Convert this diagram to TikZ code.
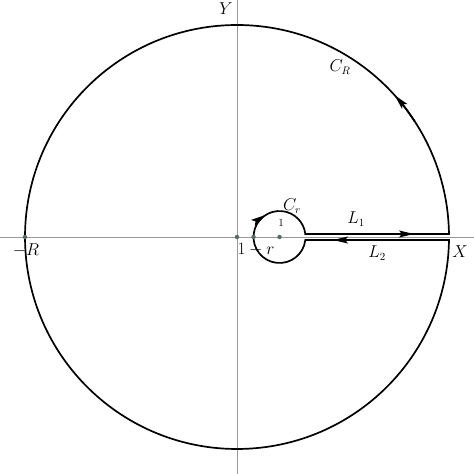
\documentclass[tikz,border=0pt]{standalone}
\usetikzlibrary{arrows.meta,calc}
\begin{document}
\begin{tikzpicture}[x=1bp,y=1bp,
  axis/.style={draw=gray!80, line width=0.7bp},
  contour/.style={draw=black, line width=1.7bp},
  tip/.style={contour, -{Stealth[length=15bp,width=7bp,inset=3bp]}},
  dotpt/.style={circle, fill={rgb,255:red,85;green,110;blue,100}, inner sep=0pt, minimum size=4.5bp},
  lbl/.style={font=\fontsize{16}{18}\selectfont, inner sep=0pt}]
\useasboundingbox (-237,-237) rectangle (237,237);
% axes
\coordinate (xl) at (-237,0); \coordinate (xr) at (237,0);
\coordinate (yb) at (0,-237); \coordinate (yt) at (0,237);
\draw[axis] (xl) -- (xr);
\draw[axis] (yb) -- (yt);
% contour
\coordinate (sc) at (42.5,0);
\draw[contour] (68.33,3) -- (211.98,3) arc[start angle=0.81, end angle=359.19, radius=212]
  -- (68.33,-3) arc[start angle=-6.63, end angle=-353.37, radius=26] -- cycle;
% arrows
\draw[tip] (33:212) arc[start angle=33, end angle=42, radius=212];
\draw[tip] ($(sc)+(140:26)$) arc[start angle=140, end angle=122, radius=26];
\draw[tip] (150,3) -- (177,3);
\draw[tip] (122,-3) -- (96,-3);
% dots
\node[dotpt] (pR) at (-212,0) {};
\node[dotpt] (p0) at (0,0) {};
\node[dotpt] (p1r) at (16.5,0) {};
\node[dotpt] (p1) at (sc) {};
% labels
\node[lbl] (lCR) at (103,170) {$C_R$};
\node[lbl] (lCr) at (55,31) {$C_r$};
\node[lbl, font=\fontsize{10.5}{12}\selectfont] (l1) at (44,14) {$1$};
\node[lbl] (l1r) at (19,-13) {$1-r$};
\node[lbl] (lL1) at (119,18) {$L_1$};
\node[lbl] (lL2) at (140,-16) {$L_2$};
\node[lbl] (lX) at (223,-15) {$X$};
\node[lbl] (lY) at (-11,228) {$Y$};
\node[lbl] (lR) at (-211,-13) {$-R$};
\end{tikzpicture}
\end{document}
